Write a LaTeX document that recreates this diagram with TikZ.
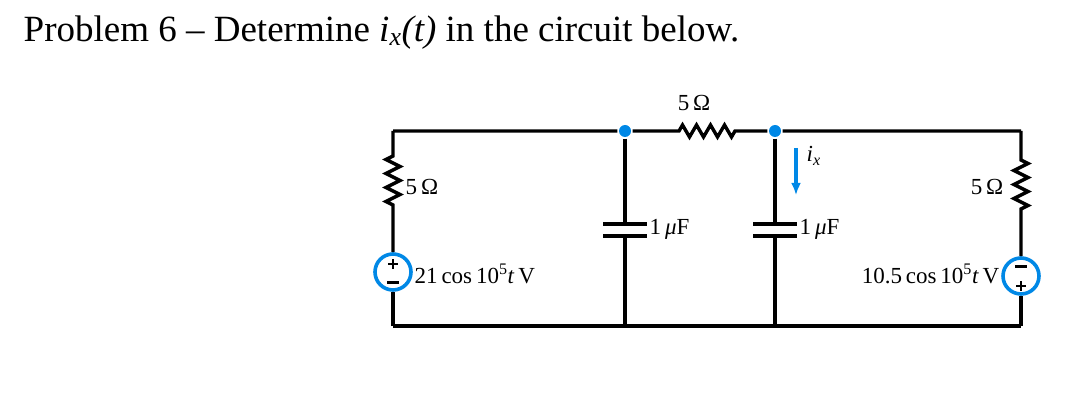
\documentclass[tikz,border=0pt]{standalone}
\usepackage{fontspec}
\setmainfont{Liberation Serif}
\usetikzlibrary{arrows.meta}
\begin{document}
\begin{tikzpicture}[x=1pt,y=-1pt,line width=3.4pt,
  wire/.style={draw=black,line width=3.4pt,line join=miter},
  sign/.style={draw=black,line width=2.2pt},
  lbl/.style={font=\fontsize{23}{24}\selectfont,inner sep=1pt},
  dot/.style={circle,fill=dotblue,inner sep=0pt,minimum size=12pt},
  src/.style={circle,draw=dotblue,line width=3.6pt,fill=white,minimum size=36pt,inner sep=0pt}]
\definecolor{dotblue}{RGB}{0,136,230}
\useasboundingbox (0,0) rectangle (1078,406);
\node[anchor=base west,font=\fontsize{37}{40}\selectfont,inner sep=0pt] (title) at (22,42) {Problem 6 -- Determine \textit{i}\textsubscript{\textit{x}}\textit{(t)} in the circuit below.};
\coordinate (tl) at (393,131); \coordinate (bl) at (393,326);
\coordinate (tr) at (1021,131); \coordinate (br) at (1021,326);
\node[dot] (n1) at (625,131) {};
\node[dot] (n2) at (775,131) {};
\coordinate (b1) at (625,326); \coordinate (b2) at (775,326);
% left branch
\node[src] (s1) at (393,272) {};
\draw[sign] (388,264) -- (398,264) (393,259) -- (393,269);
\draw[sign,line width=3pt] (387,282) -- (399,282);
\draw[wire] (tl) -- (393,156) -- ++(-7,3.5) -- ++(14,7) -- ++(-14,7) -- ++(14,7) -- ++(-14,7) -- ++(14,7) -- ++(-14,7) -- ++(7,3.5) -- (s1.north);
\draw[wire] (s1.south) -- (bl);
% top wire
\draw[wire] (tl) -- (n1) -- (679,131) -- ++(3.5,-6) -- ++(7,12) -- ++(7,-12) -- ++(7,12) -- ++(7,-12) -- ++(7,12) -- ++(7,-12) -- ++(7,12) -- ++(3.5,-6) -- (n2) -- (tr);
\draw[wire] (bl) -- (b1) -- (b2) -- (br);
% capacitors
\draw[wire] (n1) -- (625,224) (625,236) -- (b1);
\draw[wire] (603,224) -- (647,224) (603,236) -- (647,236);
\draw[wire] (n2) -- (775,224) (775,236) -- (b2);
\draw[wire] (753,224) -- (797,224) (753,236) -- (797,236);
% right branch
\node[src] (s2) at (1021,276) {};
\draw[sign,line width=3pt] (1015,266) -- (1027,266);
\draw[sign] (1016,286) -- (1026,286) (1021,281) -- (1021,291);
\draw[wire] (tr) -- (1021,160) -- ++(7,3.5) -- ++(-14,7) -- ++(14,7) -- ++(-14,7) -- ++(14,7) -- ++(-14,7) -- ++(14,7) -- ++(-7,3.5) -- (s2.north);
\draw[wire] (s2.south) -- (br);
% current arrow
\draw[dotblue,line width=3.2pt,-{Latex[length=12pt,width=10pt]}] (796,148) -- (796,195);
% labels
\node[lbl] (l1) at (694,103) {5\,Ω};
\node[lbl,anchor=west] (l2) at (403,187) {5\,Ω};
\node[lbl,anchor=east] (l3) at (1006,187) {5\,Ω};
\node[lbl,anchor=west] (l4) at (647,229) {1\,\textit{μ}F};
\node[lbl,anchor=west] (l5) at (797,229) {1\,\textit{μ}F};
\node[lbl,anchor=west] (l6) at (412,274) {21\,cos\,10\textsuperscript{5}\textit{t}\,V};
\node[lbl,anchor=east] (l7) at (1002,274) {10.5\,cos\,10\textsuperscript{5}\textit{t}\,V};
\node[lbl,anchor=west] (l8) at (804,156) {\textit{i}\textsubscript{\textit{x}}};
\end{tikzpicture}
\end{document}
